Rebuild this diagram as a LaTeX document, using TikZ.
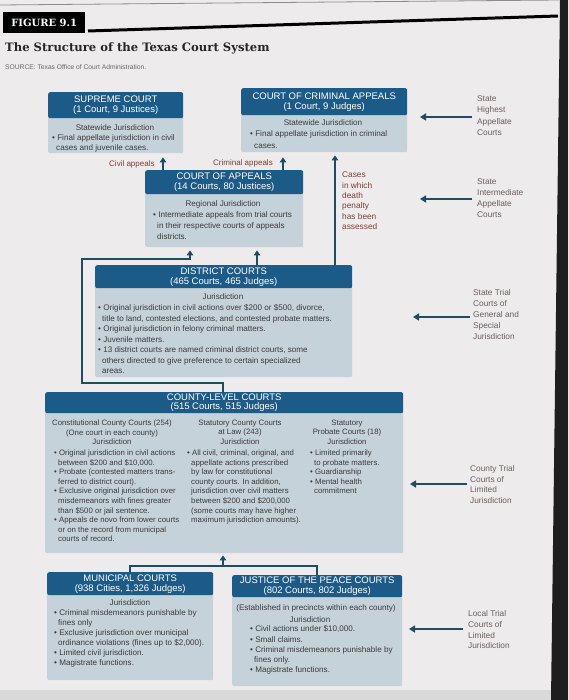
\documentclass[tikz,border=0pt]{standalone}
\usepackage{fontspec}
\setmainfont{Liberation Sans}
\newfontfamily\slab{DejaVu Serif}
\usetikzlibrary{arrows.meta,calc}
\definecolor{pagebg}{HTML}{EEEBEC}
\definecolor{hdrblue}{HTML}{1C5A88}
\definecolor{bodyblue}{HTML}{C6D2DA}
\definecolor{linkcol}{HTML}{1E4C60}
\definecolor{txt}{HTML}{3A3A3A}
\definecolor{notecol}{HTML}{7B3F33}
\definecolor{lblcol}{HTML}{6A5E5C}
\definecolor{stripcol}{HTML}{1E1E1E}
\newcommand\bpt{\textbullet\ }
\newcommand\bind{\hspace*{4pt}}
\tikzset{
 hdr/.style={fill=hdrblue, text=white, anchor=north west, inner sep=0, align=center,
   font=\fontsize{9.5}{10}\selectfont, rounded corners=2pt},
 bodyrect/.style={fill=bodyblue, anchor=north west, inner sep=0, rounded corners=2pt},
 ctitle/.style={anchor=north, inner sep=0, align=center, text=txt, font=\fontsize{8.1}{10}\selectfont},
 blist/.style={anchor=north west, inner sep=0, align=left, text=txt, font=\fontsize{8.1}{10}\selectfont},
 link/.style={draw=linkcol, line width=1.6pt},
 uparr/.style={link, -{Triangle[length=5pt,width=6.5pt]}},
 sidearr/.style={link, line width=1.8pt, -{Triangle[length=6pt,width=7pt]}},
 sidelbl/.style={anchor=north west, inner sep=0, align=left, text=lblcol, font=\fontsize{8.3}{11}\selectfont},
 notelbl/.style={anchor=north west, inner sep=0, align=left, text=notecol, font=\fontsize{8}{10.4}\selectfont},
}
\begin{document}
\begin{tikzpicture}[x=1pt,y=-1pt]
\useasboundingbox (0,0) rectangle (568,700);
% page
\fill[pagebg] (0,0) rectangle (568,700);
\fill[black!15] (0,690) rectangle (568,700);
\draw[black!45, line width=0.8pt] (0,5) -- (560,0);
\fill[stripcol] (560,0) -- (568,0) -- (568,700) -- (551,700) -- cycle;

% heading
\node[fill=black, anchor=north west, minimum width=82, minimum height=21, inner sep=0] (figlab) at (3,12)
  {\color{white}\slab\bfseries\fontsize{10}{10}\selectfont FIGURE 9.1};
\coordinate (rl1) at (88,31);
\coordinate (rl2) at (558,16);
\draw[line width=3pt] (rl1) -- (rl2);
\node[anchor=west, inner sep=0, text=black!85] (title) at (5,48)
  {\slab\bfseries\fontsize{11.6}{12}\selectfont The Structure of the Texas Court System};
\node[anchor=west, inner sep=0, text=black!60] (src) at (5,67)
  {\fontsize{6.7}{7}\selectfont SOURCE: Texas Office of Court Administration.};

% ---------- Supreme Court
\node[bodyrect, minimum width=135, minimum height=38] (sc-b) at (48,115) {};
\node[hdr, minimum width=135, minimum height=26] (sc-h) at (48,92) {SUPREME COURT\\(1 Court, 9 Justices)};
\node[ctitle] (sc-t) at (115,124.6) {Statewide Jurisdiction};
\node[blist] (sc-l) at (52,134.6) {\bpt Final appellate jurisdiction in civil\\\bind cases and juvenile cases.};

% ---------- Court of Criminal Appeals
\node[bodyrect, minimum width=166, minimum height=40] (cca-b) at (241,112) {};
\node[hdr, minimum width=166, minimum height=27] (cca-h) at (241,88) {COURT OF CRIMINAL APPEALS\\(1 Court, 9 Judges)};
\node[ctitle] (cca-t) at (323,119.6) {Statewide Jurisdiction};
\node[blist, font=\fontsize{8.1}{11.5}\selectfont] (cca-l) at (250,130.6) {\bpt Final appellate jurisdiction in criminal\\\bind cases.};

% ---------- Court of Appeals
\node[bodyrect, minimum width=158, minimum height=56] (coa-b) at (145,191) {};
\node[hdr, minimum width=158, minimum height=24] (coa-h) at (145,170) {COURT OF APPEALS\\(14 Courts, 80 Justices)};
\node[ctitle] (coa-t) at (223,200.6) {Regional Jurisdiction};
\node[blist, font=\fontsize{8.1}{11}\selectfont] (coa-l) at (153,211.6) {\bpt Intermediate appeals from trial courts\\\bind in their respective courts of appeals\\\bind districts.};

% ---------- District Courts
\node[bodyrect, minimum width=257, minimum height=92] (dc-b) at (95,285) {};
\node[hdr, minimum width=257, minimum height=23] (dc-h) at (95,265) {DISTRICT COURTS\\(465 Courts, 465 Judges)};
\node[ctitle] (dc-t) at (223,293.6) {Jurisdiction};
\node[blist, font=\fontsize{8.1}{10.5}\selectfont] (dc-l) at (98,304.6) {\bpt Original jurisdiction in civil actions over \$200 or \$500, divorce,\\\bind title to land, contested elections, and contested probate matters.\\\bpt Original jurisdiction in felony criminal matters.\\\bpt Juvenile matters.\\\bpt 13 district courts are named criminal district courts, some\\\bind others directed to give preference to certain specialized\\\bind areas.};

% ---------- County-level Courts
\node[bodyrect, minimum width=358, minimum height=143] (cl-b) at (45,410) {};
\node[hdr, minimum width=358, minimum height=21, font=\fontsize{9.5}{9.6}\selectfont] (cl-h) at (45,392) {COUNTY-LEVEL COURTS\\(515 Courts, 515 Judges)};
\tikzset{cfont/.style={font=\fontsize{7.8}{9.6}\selectfont}}
\node[ctitle, cfont] (cl-t1) at (112,419.6) {Constitutional County Courts (254)\\(One court in each county)\\Jurisdiction};
\node[blist, cfont] (cl-l1) at (54,449.6) {\bpt Original jurisdiction in civil actions\\\bind between \$200 and \$10,000.\\\bpt Probate (contested matters trans-\\\bind ferred to district court).\\\bpt Exclusive original jurisdiction over\\\bind misdemeanors with fines greater\\\bind than \$500 or jail sentence.\\\bpt Appeals de novo from lower courts\\\bind or on the record from municipal\\\bind courts of record.};
\node[ctitle, cfont] (cl-t2) at (240,419.6) {Statutory County Courts\\at Law (243)\\Jurisdiction};
\node[blist, cfont] (cl-l2) at (187,449.6) {\bpt All civil, criminal, original, and\\\bind appellate actions prescribed\\\bind by law for constitutional\\\bind county courts. In addition,\\\bind jurisdiction over civil matters\\\bind between \$200 and \$200,000\\\bind (some courts may have higher\\\bind maximum jurisdiction amounts).};
\node[ctitle, cfont] (cl-t3) at (347,419.6) {Statutory\\Probate Courts (18)\\Jurisdiction};
\node[blist, cfont] (cl-l3) at (310,449.6) {\bpt Limited primarily\\\bind to probate matters.\\\bpt Guardianship\\\bpt Mental health\\\bind commitment};

% ---------- Municipal Courts
\node[bodyrect, minimum width=166, minimum height=88] (mc-b) at (47,592) {};
\node[hdr, minimum width=166, minimum height=23] (mc-h) at (47,572) {MUNICIPAL COURTS\\(938 Cities, 1,326 Judges)};
\node[ctitle] (mc-t) at (130,599.6) {Jurisdiction};
\node[blist] (mc-l) at (54,609.6) {\bpt Criminal misdemeanors punishable by\\\bind fines only\\\bpt Exclusive jurisdiction over municipal\\\bind ordinance violations (fines up to \$2,000).\\\bpt Limited civil jurisdiction.\\\bpt Magistrate functions.};

% ---------- Justice of the Peace Courts
\node[bodyrect, minimum width=170, minimum height=92] (jp-b) at (232,594) {};
\node[hdr, minimum width=170, minimum height=22] (jp-h) at (232,575) {JUSTICE OF THE PEACE COURTS\\(802 Courts, 802 Judges)};
\node[ctitle] (jp-t1) at (316,604.6) {(Established in precincts within each county)};
\node[ctitle] (jp-t2) at (310,616.6) {Jurisdiction};
\node[blist, font=\fontsize{8.1}{10.25}\selectfont] (jp-l) at (250,625.6) {\bpt Civil actions under \$10,000.\\\bpt Small claims.\\\bpt Criminal misdemeanors punishable by\\\bind fines only.\\\bpt Magistrate functions.};

% ---------- notes
\node[notelbl] (n-civil) at (109,160.7) {Civil appeals};
\node[notelbl] (n-crim) at (213,159.7) {Criminal appeals};
\node[notelbl, font=\fontsize{8.3}{10.4}\selectfont] (n-death) at (342,171.7) {Cases\\in which\\death\\penalty\\has been\\assessed};

% ---------- side labels
\node[sidelbl, font=\fontsize{8.3}{11.3}\selectfont] (s1) at (477,95.7) {State\\Highest\\Appellate\\Courts};
\node[sidelbl] (s2) at (477,178.7) {State\\Intermediate\\Appellate\\Courts};
\node[sidelbl] (s3) at (473,289.7) {State Trial\\Courts of\\General and\\Special\\Jurisdiction};
\node[sidelbl, font=\fontsize{8.3}{10.4}\selectfont] (s4) at (470,465.7) {County Trial\\Courts of\\Limited\\Jurisdiction};
\node[sidelbl, font=\fontsize{8.3}{10.6}\selectfont] (s5) at (468,610.7) {Local Trial\\Courts of\\Limited\\Jurisdiction};

\coordinate (e1) at (420,117);
\coordinate (e2) at (420,199);
\coordinate (e3) at (413,317);
\coordinate (e4) at (410,484);
\coordinate (e5) at (409,629);
\draw[sidearr, shorten <=5pt] (s1.west |- e1) -- (e1);
\draw[sidearr, shorten <=5pt] (s2.west |- e2) -- (e2);
\draw[sidearr, shorten <=3pt] (s3.west |- e3) -- (e3);
\draw[sidearr, shorten <=3pt] (s4.west |- e4) -- (e4);
\draw[sidearr, shorten <=5pt] (s5.west |- e5) -- (e5);

% ---------- connectors
\coordinate (civx) at (163,0);
\coordinate (crimx) at (283,0);
\coordinate (deathx) at (335,0);
\coordinate (dcx) at (257,0);
\coordinate (clx) at (190,0);
\coordinate (ctx) at (223,0);
\coordinate (clA) at (82,383);
\coordinate (clB) at (82,259);
\coordinate (treeY) at (0,566);

\draw[uparr, shorten >=4pt] (civx |- coa-h.north) -- (civx |- sc-b.south);
\draw[uparr, shorten >=5pt] (crimx |- coa-h.north) -- (crimx |- cca-b.south);
\draw[uparr, shorten >=3pt] (deathx |- dc-h.north) -- (deathx |- cca-b.south);
\draw[uparr, shorten >=3pt] (dcx |- dc-h.north) -- (dcx |- coa-b.south);
\draw[uparr, shorten >=3pt] (ctx |- cl-h.north) |- (clA) -- (clB) -| (clx |- coa-b.south);
\draw[link] (mc-h.north) |- (jp-h.north |- treeY) -- (jp-h.north);
\draw[uparr, shorten >=2pt] (ctx |- treeY) -- (ctx |- cl-b.south);
\end{tikzpicture}
\end{document}
